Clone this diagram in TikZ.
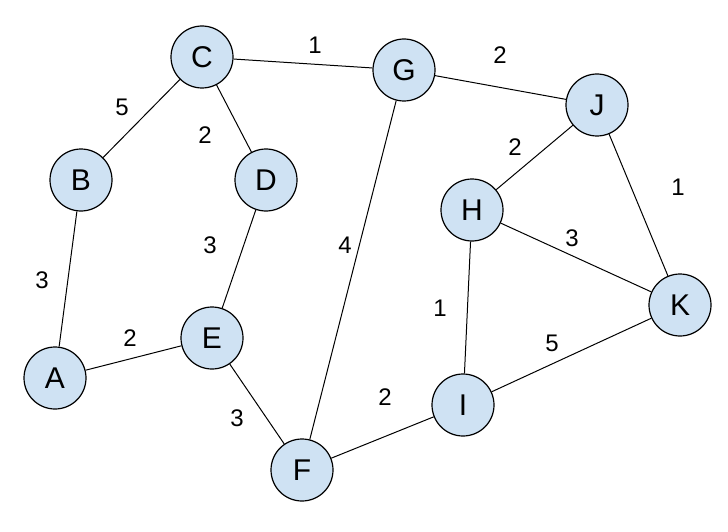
\documentclass[tikz,border=0pt]{standalone}
\usepackage{fontspec}
\setmainfont{Liberation Sans}
\begin{document}
\begin{tikzpicture}[x=1pt,y=-1pt,
  vert/.style={circle,draw=black,line width=1.2pt,fill={rgb,255:red,207;green,226;blue,243},minimum size=62pt,inner sep=0pt,font=\fontsize{30}{30}\selectfont},
  lbl/.style={font=\fontsize{24}{24}\selectfont},
  edge/.style={line width=1pt}]
\useasboundingbox (0,0) rectangle (728,532);
\node[vert] (C) at (202,57) {C};
\node[vert] (G) at (404,70) {G};
\node[vert] (J) at (597,105) {J};
\node[vert] (B) at (81,180) {B};
\node[vert] (D) at (266,180) {D};
\node[vert] (H) at (472,210) {H};
\node[vert] (K) at (680,305) {K};
\node[vert] (E) at (212,338) {E};
\node[vert] (A) at (55,378) {A};
\node[vert] (I) at (463,405) {I};
\node[vert] (F) at (302,470) {F};
\draw[edge] (C)--(G); \draw[edge] (G)--(J); \draw[edge] (C)--(B); \draw[edge] (C)--(D);
\draw[edge] (B)--(A); \draw[edge] (D)--(E); \draw[edge] (A)--(E); \draw[edge] (E)--(F);
\draw[edge] (G)--(F); \draw[edge] (F)--(I); \draw[edge] (J)--(H); \draw[edge] (H)--(K);
\draw[edge] (J)--(K); \draw[edge] (H)--(I); \draw[edge] (I)--(K);
\node[lbl] (l1) at (315,45) {1};
\node[lbl] (l2) at (500,55) {2};
\node[lbl] (l3) at (122,107) {5};
\node[lbl] (l4) at (205,135) {2};
\node[lbl] (l5) at (42,280) {3};
\node[lbl] (l6) at (210,245) {3};
\node[lbl] (l7) at (130,338) {2};
\node[lbl] (l8) at (237,418) {3};
\node[lbl] (l9) at (345,245) {4};
\node[lbl] (l10) at (385,397) {2};
\node[lbl] (l11) at (515,147) {2};
\node[lbl] (l12) at (572,238) {3};
\node[lbl] (l13) at (678,187) {1};
\node[lbl] (l14) at (440,308) {1};
\node[lbl] (l15) at (552,343) {5};
\end{tikzpicture}
\end{document}
